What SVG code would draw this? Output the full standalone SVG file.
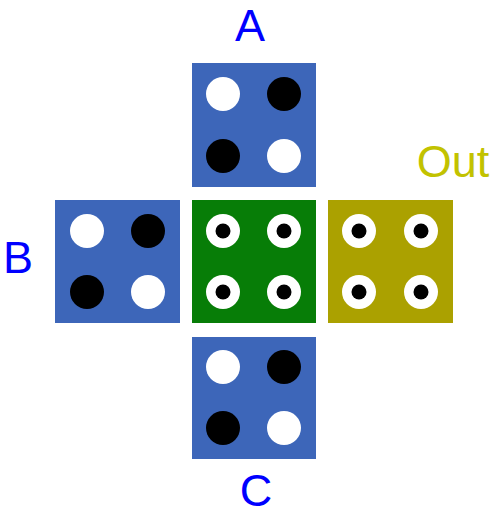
<svg xmlns="http://www.w3.org/2000/svg" width="500" height="516" viewBox="0 0 500 516">
<style>
.lbl{font-family:"Liberation Sans",Arial,sans-serif;font-size:45px;text-anchor:middle}
.blue{fill:#3d66b9}
.w{fill:#ffffff}
.k{fill:#000000}
</style>
<rect width="500" height="516" fill="#ffffff"/>
<g id="A">
<rect class="blue" x="192" y="63" width="124" height="124"/>
<circle class="w" cx="223" cy="94" r="17"/><circle class="k" cx="284" cy="94" r="17"/>
<circle class="k" cx="223" cy="156" r="17"/><circle class="w" cx="284" cy="156" r="17"/>
<text class="lbl" x="250" y="41" fill="#0000ff">A</text>
</g>
<g id="B">
<rect class="blue" x="55" y="200" width="125" height="123"/>
<circle class="w" cx="87" cy="231" r="17"/><circle class="k" cx="148" cy="231" r="17"/>
<circle class="k" cx="87" cy="292" r="17"/><circle class="w" cx="148" cy="292" r="17"/>
<text class="lbl" x="18" y="273" fill="#0000ff">B</text>
</g>
<g id="center">
<rect x="192" y="200" width="124" height="123" fill="#077d07"/>
<circle class="w" cx="223" cy="231" r="17"/><circle class="k" cx="223" cy="231" r="7.5"/>
<circle class="w" cx="284" cy="231" r="17"/><circle class="k" cx="284" cy="231" r="7.5"/>
<circle class="w" cx="223" cy="292" r="17"/><circle class="k" cx="223" cy="292" r="7.5"/>
<circle class="w" cx="284" cy="292" r="17"/><circle class="k" cx="284" cy="292" r="7.5"/>
</g>
<g id="Out">
<rect x="328" y="200" width="125" height="123" fill="#aba100"/>
<circle class="w" cx="359" cy="231" r="17"/><circle class="k" cx="359" cy="231" r="7.5"/>
<circle class="w" cx="421" cy="231" r="17"/><circle class="k" cx="421" cy="231" r="7.5"/>
<circle class="w" cx="359" cy="292" r="17"/><circle class="k" cx="359" cy="292" r="7.5"/>
<circle class="w" cx="421" cy="292" r="17"/><circle class="k" cx="421" cy="292" r="7.5"/>
<text class="lbl" x="453" y="177" fill="#c2c200">Out</text>
</g>
<g id="C">
<rect class="blue" x="192" y="337" width="124" height="122"/>
<circle class="w" cx="223" cy="367" r="17"/><circle class="k" cx="284" cy="367" r="17"/>
<circle class="k" cx="223" cy="428" r="17"/><circle class="w" cx="284" cy="428" r="17"/>
<text class="lbl" x="256" y="506" fill="#0000ff">C</text>
</g>
<g id="connectors"></g>
</svg>
